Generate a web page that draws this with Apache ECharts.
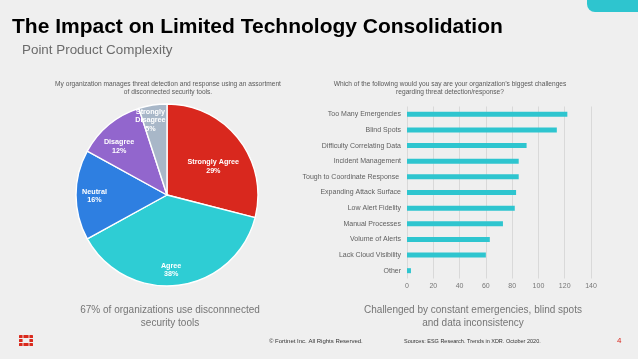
<!DOCTYPE html>
<html>
<head>
<meta charset="utf-8">
<script src="https://cdn.jsdelivr.net/npm/echarts@6/dist/echarts.min.js"></script>
<style>
html,body{margin:0;padding:0;background:#efefef;}
#chart{width:638px;height:359px;}
</style>
</head>
<body>
<div id="chart"></div>
<script>
// ---- data ----
var pieNames = ['Strongly Agree', 'Agree', 'Neutral', 'Disagree', 'Strongly Disagree'];
var pieValues = [29, 38, 16, 12, 5];
var barCategories = ['Too Many Emergencies', 'Blind Spots', 'Difficulty Correlating Data', 'Incident Management',
  'Tough to Coordinate Response ', 'Expanding Attack Surface', 'Low Alert Fidelity', 'Manual Processes',
  'Volume of Alerts', 'Lack Cloud Visibility', 'Other'];
var barValues = [122, 114, 91, 85, 85, 83, 82, 73, 63, 60, 3];
var xTicks = [0, 20, 40, 60, 80, 100, 120, 140];

// ---- styles ----
var pieColors = ['#d9281e', '#2ecdd4', '#2e7fe1', '#9266cd', '#a8b7c8'];
var pieLabelShift = [[8, 1], [-2, 27], [-24, 1], [-17, -11], [-9, -27]];
var FONT = '"Liberation Sans", Arial, sans-serif';

var chart = echarts.init(document.getElementById('chart'), null, {renderer: 'canvas'});

var pieData = pieNames.map(function (n, i) {
  return {name: n, value: pieValues[i], itemStyle: {color: pieColors[i]}};
});

function logoRects() {
  var c = '#da291c';
  var r = [[19,335,3.6,3],[23.4,335,5.2,3],[29.4,335,3.6,3],[19,339,3.6,3],[29.4,339,3.6,3],[19,343,3.6,3],[23.4,343,5.2,3],[29.4,343,3.6,3]];
  return r.map(function (a) {
    return {type: 'rect', shape: {x: a[0], y: a[1], width: a[2], height: a[3], r: 0.6}, style: {fill: c}, silent: true};
  });
}

var option = {
  backgroundColor: '#efefef',
  animation: false,
  textStyle: {fontFamily: FONT},
  graphic: [
    {type: 'rect', shape: {x: 587, y: -10, width: 60, height: 22, r: 8}, style: {fill: '#2ec5cf'}},
    {type: 'text', left: 12, top: 17, style: {text: 'The Impact on Limited Technology Consolidation', font: 'bold 21px ' + FONT, fill: '#000'}},
    {type: 'text', left: 22, top: 44, style: {text: 'Point Product Complexity', font: '13.4px ' + FONT, fill: '#6b6b6b'}},
    {type: 'text', x: 168, y: 80, style: {text: 'My organization manages threat detection and response using an assortment\nof disconnected security tools.', font: '6.6px ' + FONT, fill: '#5a5a5a', align: 'center', lineHeight: 8}},
    {type: 'text', x: 450, y: 80, style: {text: 'Which of the following would you say are your organization\u2019s biggest challenges\nregarding threat detection/response?', font: '6.6px ' + FONT, fill: '#5a5a5a', align: 'center', lineHeight: 8}},
    {type: 'text', x: 170, y: 304, style: {text: '67% of organizations use disconnnected\nsecurity tools', font: '10px ' + FONT, fill: '#757575', align: 'center', lineHeight: 12.5}},
    {type: 'text', x: 473, y: 304, style: {text: 'Challenged by constant emergencies, blind spots\nand data inconsistency', font: '10px ' + FONT, fill: '#757575', align: 'center', lineHeight: 12.5}},
    {type: 'text', x: 269, y: 338, style: {text: '\u00a9 Fortinet Inc. All Rights Reserved.', font: '6px ' + FONT, fill: '#333'}},
    {type: 'text', x: 404, y: 338, style: {text: 'Sources: ESG Research. Trends in XDR. October 2020.', font: '5.5px ' + FONT, fill: '#333'}},
    {type: 'text', x: 617, y: 337, style: {text: '4', font: '8px ' + FONT, fill: '#d9281e'}}
  ].concat(logoRects()),
  grid: {left: 407, right: 47, top: 106.5, bottom: 80.5, containLabel: false},
  xAxis: {
    type: 'value', min: xTicks[0], max: xTicks[xTicks.length - 1], interval: xTicks[1] - xTicks[0],
    axisLine: {show: false}, axisTick: {show: false},
    splitLine: {lineStyle: {color: '#d9d9d9', width: 1}},
    axisLabel: {fontSize: 7, color: '#777', margin: 4}
  },
  yAxis: {
    type: 'category', data: barCategories, inverse: true,
    axisLine: {show: false}, axisTick: {show: false},
    axisLabel: {fontSize: 7, color: '#5f5f5f', margin: 6}
  },
  series: [
    {
      type: 'pie', center: [167, 195], radius: 91, startAngle: 90, clockwise: true,
      data: pieData,
      itemStyle: {borderColor: '#fff', borderWidth: 1.4},
      label: {
        position: 'inside', color: '#fff', fontWeight: 'bold', fontSize: 7.2, lineHeight: 8.5,
        formatter: function (p) { return p.name.replace('Strongly Disagree', 'Strongly\nDisagree') + '\n' + p.value + '%'; }
      },
      labelLine: {show: false},
      labelLayout: function (p) { var s = pieLabelShift[p.dataIndex]; return {dx: s[0], dy: s[1]}; }
    },
    {
      type: 'bar', data: barValues, barWidth: 5,
      itemStyle: {color: '#2ec5cf'}
    }
  ]
};
chart.setOption(option);
</script>
</body>
</html>
